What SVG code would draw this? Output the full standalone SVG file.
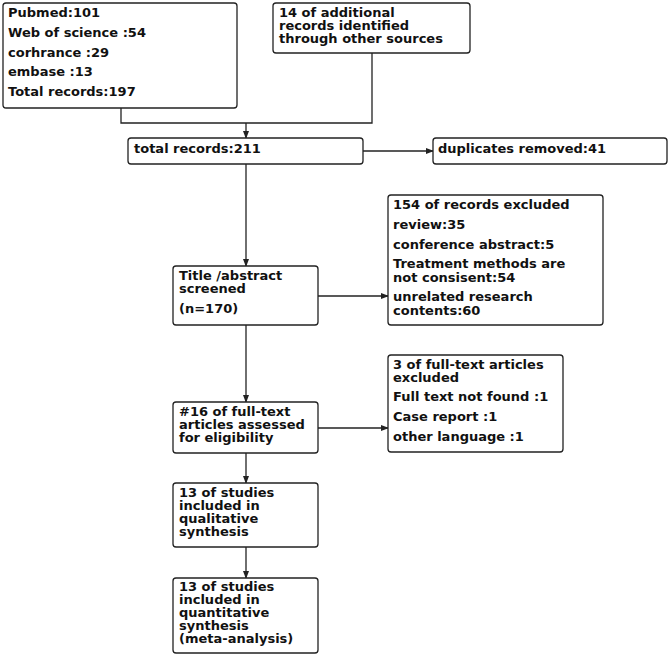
<svg xmlns="http://www.w3.org/2000/svg" width="669" height="657" viewBox="0 0 669 657">
<style>
rect{fill:#fff;stroke:#222;stroke-width:1.3}
text{font-family:"DejaVu Sans",sans-serif;font-weight:bold;font-size:13px;fill:#111}
.c{fill:none;stroke:#222;stroke-width:1.3}
</style>
<defs><marker id="a" markerWidth="8" markerHeight="6" refX="7" refY="3" orient="auto" markerUnits="userSpaceOnUse"><path d="M0,0 L8,3 L0,6z" fill="#222"/></marker></defs>
<rect width="669" height="657" style="fill:#fff;stroke:none"/>
<g id="connectors">
<path class="c" d="M121,108 V123 H372 V53"/>
<path class="c" d="M246,123 V138" marker-end="url(#a)"/>
<path class="c" d="M363,151 H433" marker-end="url(#a)"/>
<path class="c" d="M246,164 V266" marker-end="url(#a)"/>
<path class="c" d="M318,296 H388" marker-end="url(#a)"/>
<path class="c" d="M246,325 V402" marker-end="url(#a)"/>
<path class="c" d="M318,428 H388" marker-end="url(#a)"/>
<path class="c" d="M246,453 V483" marker-end="url(#a)"/>
<path class="c" d="M246,547 V578" marker-end="url(#a)"/>
</g>
<g id="n1"><rect x="3" y="3" width="234" height="105" rx="3"/>
<text x="8" y="17">Pubmed:101</text><text x="8" y="37">Web of science :54</text><text x="8" y="57">corhrance :29</text><text x="8" y="76">embase :13</text><text x="8" y="96">Total records:197</text></g>
<g id="n2"><rect x="273" y="3" width="197" height="50" rx="3"/>
<text x="279" y="17">14 of additional</text><text x="279" y="30">records identified</text><text x="279" y="43">through other sources</text></g>
<g id="n3"><rect x="128" y="138" width="235" height="26" rx="3"/><text x="134" y="153">total records:211</text></g>
<g id="n4"><rect x="433" y="138" width="234" height="26" rx="3"/><text x="438" y="153">duplicates removed:41</text></g>
<g id="n5"><rect x="388" y="195" width="215" height="130" rx="3"/>
<text x="393" y="209">154 of records excluded</text><text x="393" y="229">review:35</text><text x="393" y="249">conference abstract:5</text><text x="393" y="268">Treatment methods are</text><text x="393" y="281.5">not consisent:54</text><text x="393" y="301">unrelated research</text><text x="393" y="314.5">contents:60</text></g>
<g id="n6"><rect x="173" y="266" width="145" height="59" rx="3"/>
<text x="179" y="280">Title /abstract</text><text x="179" y="293">screened</text><text x="179" y="313">(n=170)</text></g>
<g id="n7"><rect x="388" y="355" width="175" height="97" rx="3"/>
<text x="393" y="369">3 of full-text articles</text><text x="393" y="382">excluded</text><text x="393" y="401">Full text not found :1</text><text x="393" y="421">Case report :1</text><text x="393" y="441">other language :1</text></g>
<g id="n8"><rect x="173" y="402" width="145" height="51" rx="3"/>
<text x="179" y="416">#16 of full-text</text><text x="179" y="429">articles assessed</text><text x="179" y="442">for eligibility</text></g>
<g id="n9"><rect x="173" y="483" width="145" height="64" rx="3"/>
<text x="179" y="497">13 of studies</text><text x="179" y="510">included in</text><text x="179" y="523">qualitative</text><text x="179" y="536">synthesis</text></g>
<g id="n10"><rect x="173" y="578" width="145" height="75" rx="3"/>
<text x="179" y="591">13 of studies</text><text x="179" y="604">included in</text><text x="179" y="617">quantitative</text><text x="179" y="630">synthesis</text><text x="179" y="643">(meta-analysis)</text></g>
</svg>
